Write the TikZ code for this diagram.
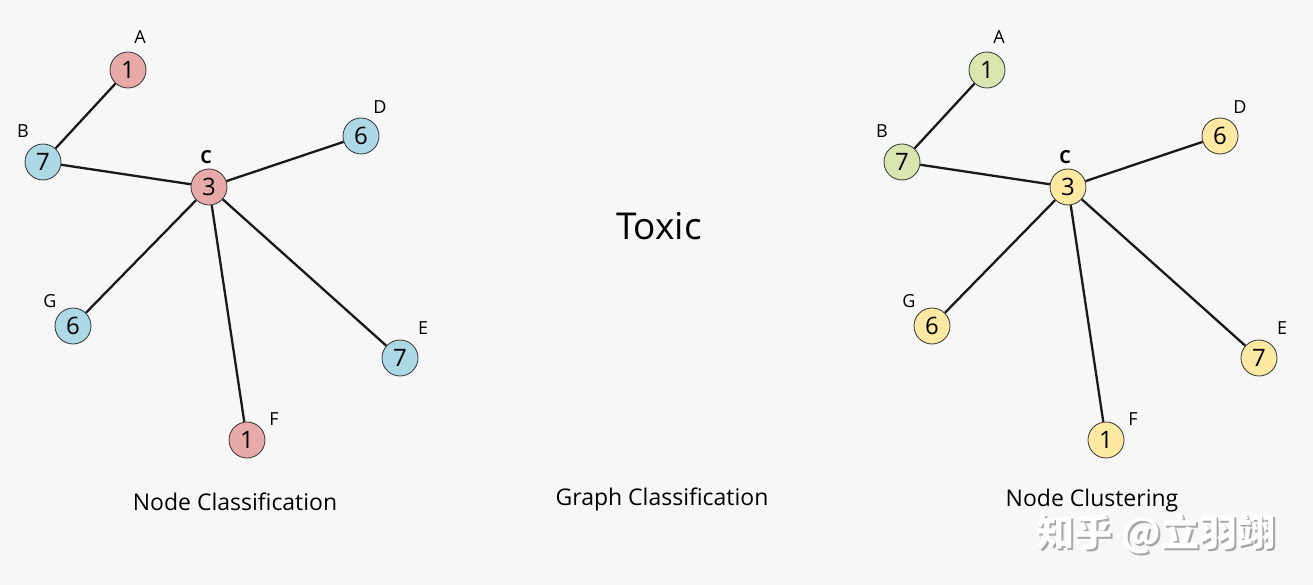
\documentclass[tikz,border=0pt]{standalone}
\usepackage{fontspec}
\setmainfont{Open Sans}
\newfontfamily\cjkfont{Noto Sans CJK SC}
\definecolor{bggray}{HTML}{F7F7F7}
\definecolor{npink}{HTML}{E8A9A9}
\definecolor{nblue}{HTML}{ADD8E6}
\definecolor{ngreen}{HTML}{D9E6AF}
\definecolor{nyellow}{HTML}{FDE9A1}

\begin{document}
\begin{tikzpicture}[x=1pt,y=-1pt,
	vert/.style={circle,draw=black!80,line width=0.8pt,minimum size=36pt,inner sep=0pt,font=\fontsize{24}{24}\selectfont},
	tag/.style={inner sep=0pt,font=\fontsize{18}{18}\selectfont},
	edge/.style={line width=2.3pt,black!90},
	caption/.style={inner sep=0pt,anchor=base,font=\fontsize{23}{23}\selectfont}]
		\fill [bggray] (0,0) rectangle (1313,585);
		\useasboundingbox (0,0) rectangle (1313,585);
		% node classification
		\node [vert,fill=npink] (la) at (128,70) {1};
		\node [vert,fill=nblue] (lb) at (43,162) {7};
		\node [vert,fill=npink] (lc) at (209,187) {3};
		\node [vert,fill=nblue] (ld) at (361,136) {6};
		\node [vert,fill=nblue] (le) at (400,358) {7};
		\node [vert,fill=npink] (lf) at (247,440) {1};
		\node [vert,fill=nblue] (lg) at (73,326) {6};
		\node [tag] (lta) at (140,37) {A};
		\node [tag] (ltb) at (23,131) {B};
		\node [tag,font=\fontsize{18}{18}\selectfont\bfseries] (ltc) at (206,157) {C};
		\node [tag] (ltd) at (380,107) {D};
		\node [tag] (lte) at (423,328) {E};
		\node [tag] (ltf) at (274,419) {F};
		\node [tag] (ltg) at (50,301) {G};
		\draw [edge] (la) -- (lb);
		\draw [edge] (lb) -- (lc);
		\draw [edge] (lc) -- (ld);
		\draw [edge] (lc) -- (le);
		\draw [edge] (lc) -- (lf);
		\draw [edge] (lc) -- (lg);
		% node clustering
		\node [vert,fill=ngreen] (ra) at (987,70) {1};
		\node [vert,fill=ngreen] (rb) at (902,162) {7};
		\node [vert,fill=nyellow] (rc) at (1068,187) {3};
		\node [vert,fill=nyellow] (rd) at (1220,136) {6};
		\node [vert,fill=nyellow] (re) at (1259,358) {7};
		\node [vert,fill=nyellow] (rf) at (1106,440) {1};
		\node [vert,fill=nyellow] (rg) at (932,326) {6};
		\node [tag] (rta) at (999,37) {A};
		\node [tag] (rtb) at (882,131) {B};
		\node [tag,font=\fontsize{18}{18}\selectfont\bfseries] (rtc) at (1065,157) {C};
		\node [tag] (rtd) at (1240,107) {D};
		\node [tag] (rte) at (1282,328) {E};
		\node [tag] (rtf) at (1133,419) {F};
		\node [tag] (rtg) at (909,301) {G};
		\draw [edge] (ra) -- (rb);
		\draw [edge] (rb) -- (rc);
		\draw [edge] (rc) -- (rd);
		\draw [edge] (rc) -- (re);
		\draw [edge] (rc) -- (rf);
		\draw [edge] (rc) -- (rg);
		% texts
		\node [inner sep=0pt,anchor=base,font=\fontsize{37}{37}\selectfont] (toxic) at (659,240) {Toxic};
		\node [caption] (capl) at (235,510) {Node Classification};
		\node [caption] (capm) at (662,505) {Graph Classification};
		\node [caption] (capr) at (1092,506) {Node Clustering};
		\node [inner sep=0pt,font=\cjkfont\bfseries\fontsize{38}{38}\selectfont,text=black!35] (markshadow) at (1158,536) {知乎 @立羽翊};
		\node [inner sep=0pt,font=\cjkfont\bfseries\fontsize{38}{38}\selectfont,text=white] (mark) at (1156,534) {知乎 @立羽翊};
	\end{tikzpicture}
\end{document}
